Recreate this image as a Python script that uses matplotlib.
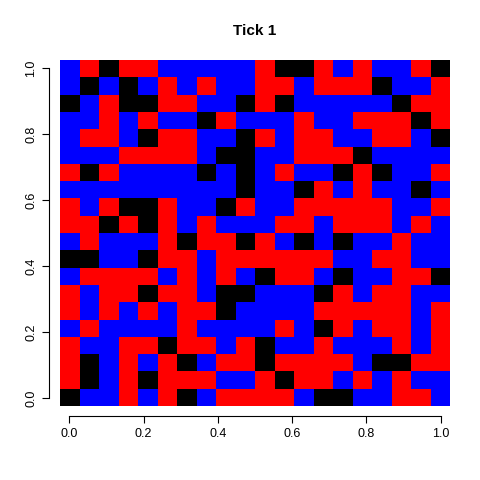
import matplotlib
matplotlib.use("Agg")
import matplotlib.pyplot as plt
from matplotlib.colors import ListedColormap
import numpy as np

plt.rcParams['font.family'] = ['Liberation Sans', 'DejaVu Sans']

# rows top (y=1.0) to bottom (y=0.0); B=blue, R=red, K=black
rows = [
    "BRKRRBBBBBRKKRBRBBRK",
    "BKBKBRBRBBRRBRRRKBBR",
    "KBRKKRRBBKRKBBBBBKRR",
    "BBRBRBBKRBBBRBBRRRKR",
    "BRRBKRRBBKRBRRBBRRBK",
    "BBBRRRRBKKBBRRRKBBBB",
    "RKRBBBBKBKBRBBKRKBBR",
    "BBBBBBBBBKBBKRBRBBKB",
    "RBRKKRBBKRBBRRRRRBBR",
    "RRKRKRBRBBBRRBRRRBRB",
    "BRBBBRKRRKRBKBKBBRBB",
    "KKBBKRRBRRRRRRBBRRBB",
    "BRRRRBRBRBKRRBKBBRRK",
    "RBRRKRRBKKBBBKRBRRBB",
    "RBRBRBRRKBBBBRRRRRBR",
    "BRBBBBRBBBBRBKRBRRBR",
    "RBBRRKRRBRKBBRBBBRBR",
    "RKBRBRKBRRKRRRRBKKRR",
    "RKBRKRRRBBRKRRBRBRBB",
    "KBBRBRKBRRRRBKKBBRRB",
]
code = {"K": 0, "R": 1, "B": 2}
z = np.array([[code[c] for c in r] for r in rows[::-1]])
edges = np.linspace(-0.025, 1.025, 21)
ticks = [0.0, 0.2, 0.4, 0.6, 0.8, 1.0]

fig = plt.figure(figsize=(4.8, 4.8), dpi=100)
ax = fig.add_axes([0.125, 0.154, 0.8125, 0.721])
ax.pcolormesh(edges, edges, z, cmap=ListedColormap(["black", "red", "blue"]), vmin=0, vmax=2)
ax.set_xlim(-0.025, 1.025)
ax.set_ylim(-0.025, 1.025)
for s in ["top", "right"]:
    ax.spines[s].set_visible(False)
ax.spines["left"].set_position(("outward", 8))
ax.spines["bottom"].set_position(("outward", 7))
ax.spines["left"].set_bounds(0, 1)
ax.spines["bottom"].set_bounds(0, 1)
ax.set_xticks(ticks)
ax.set_yticks(ticks)
ax.set_xticklabels([f"{t:.1f}" for t in ticks], fontsize=9)
ax.set_yticklabels([f"{t:.1f}" for t in ticks], fontsize=9, rotation=90, va="center")
ax.tick_params(length=5)
ax.set_title("Tick 1", fontsize=11, fontweight="bold", pad=18)
fig.savefig("out.png", dpi=100)
